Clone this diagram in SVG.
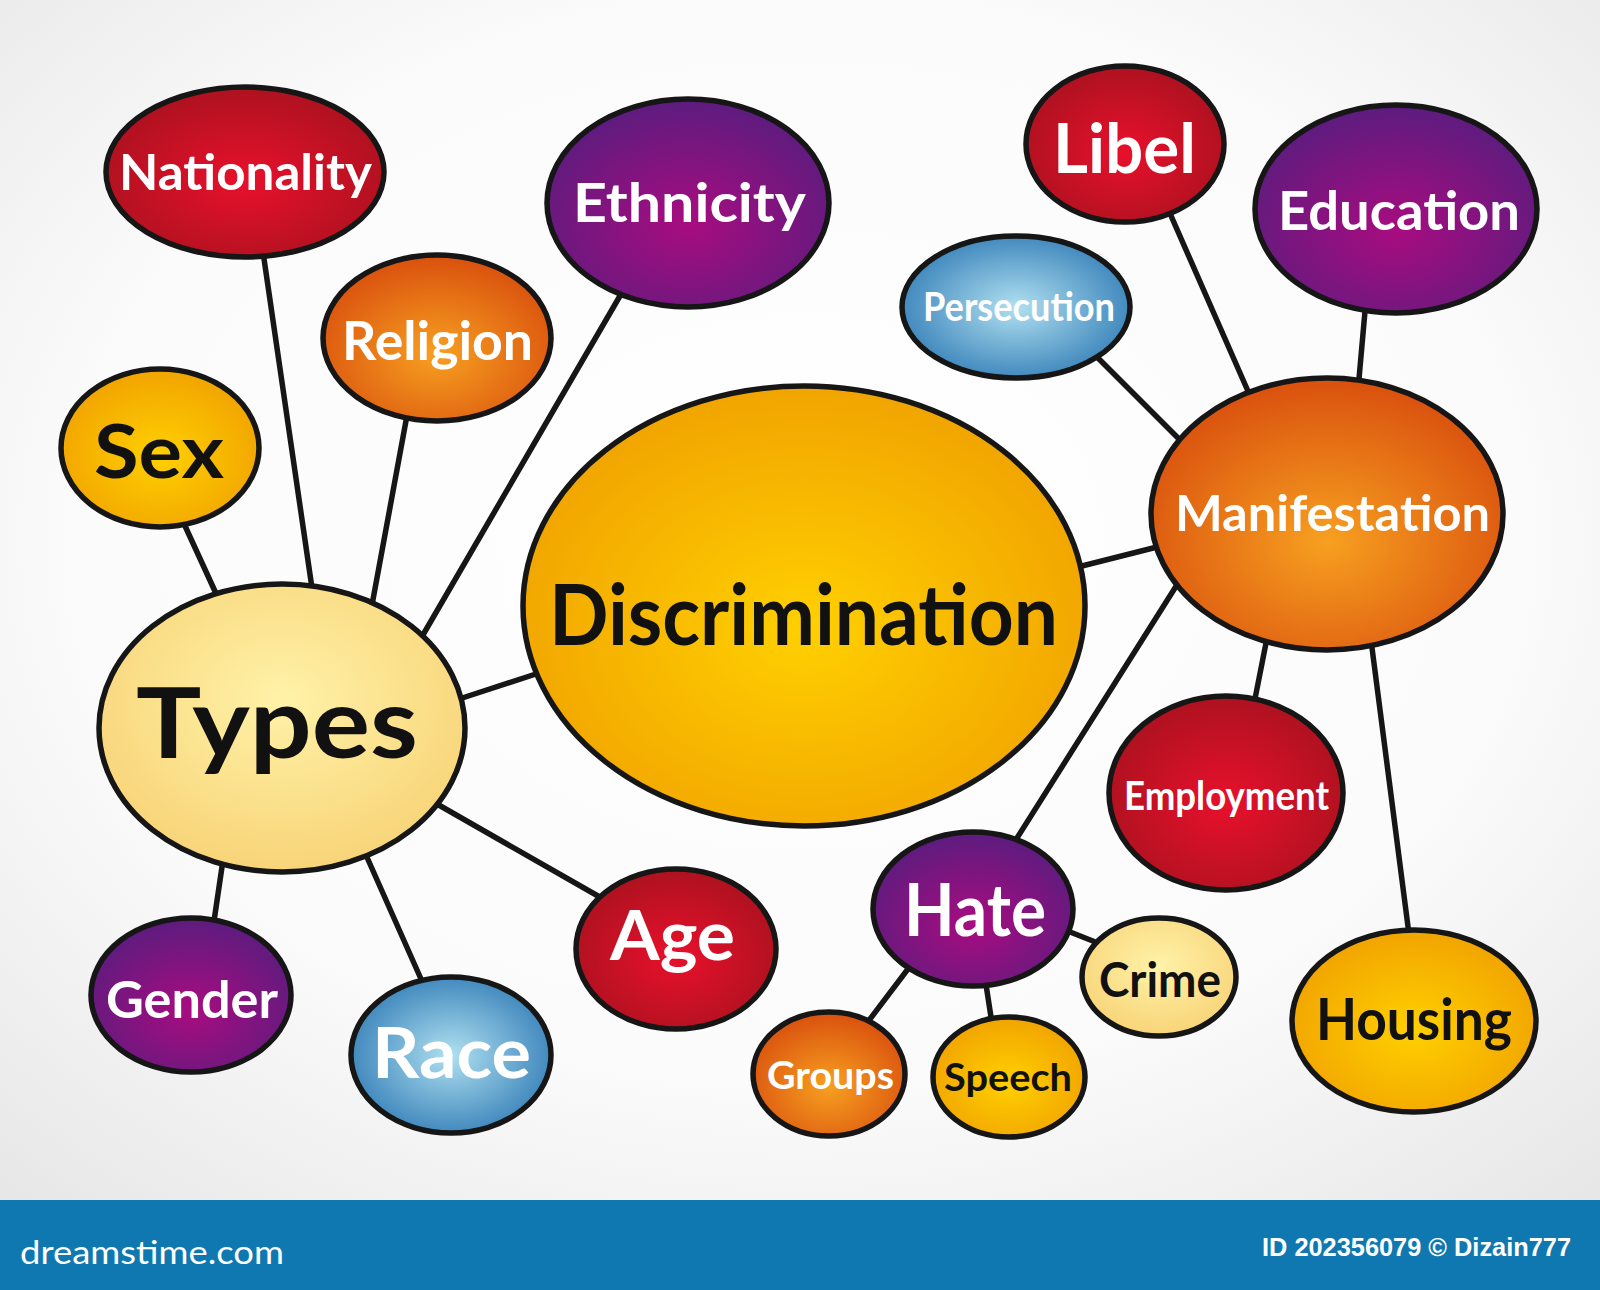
<svg xmlns="http://www.w3.org/2000/svg" width="1600" height="1290" viewBox="0 0 1600 1290">
<defs>
<radialGradient id="bg" cx="0.5" cy="0.45" r="0.75">
<stop offset="0" stop-color="#ffffff"/><stop offset="0.6" stop-color="#fbfbfb"/><stop offset="1" stop-color="#e6e6e6"/>
</radialGradient>
<radialGradient id="gRed" cx="0.5" cy="0.55" r="0.6"><stop offset="0" stop-color="#e8102c"/><stop offset="1" stop-color="#a8121e"/></radialGradient>
<radialGradient id="gPur" cx="0.5" cy="0.6" r="0.6"><stop offset="0" stop-color="#a80c80"/><stop offset="1" stop-color="#5c1c7e"/></radialGradient>
<radialGradient id="gOra" cx="0.5" cy="0.6" r="0.6"><stop offset="0" stop-color="#f7a020"/><stop offset="1" stop-color="#d9500e"/></radialGradient>
<radialGradient id="gYel" cx="0.5" cy="0.55" r="0.6"><stop offset="0" stop-color="#ffd000"/><stop offset="1" stop-color="#f0a000"/></radialGradient>
<radialGradient id="gPale" cx="0.5" cy="0.4" r="0.6"><stop offset="0" stop-color="#fff2a8"/><stop offset="1" stop-color="#f8d478"/></radialGradient>
<radialGradient id="gBlu" cx="0.5" cy="0.5" r="0.6"><stop offset="0" stop-color="#b0e0f0"/><stop offset="1" stop-color="#2c78b4"/></radialGradient>
<style>
.n{stroke:#161616;stroke-width:5.5}
.c line{stroke:#161616;stroke-width:5.5;stroke-linecap:round}
.t{font-family:Lato,"Liberation Sans",sans-serif;font-weight:700}
.w{fill:#ffffff}
.k{fill:#111111}
</style>
</defs>
<rect x="0" y="0" width="1600" height="1200" fill="url(#bg)"/>
<g id="connectors" class="c">
<line x1="450" y1="702" x2="545" y2="671"/>
<line x1="313" y1="595" x2="262" y2="245"/>
<line x1="219" y1="600" x2="180" y2="515"/>
<line x1="372" y1="605" x2="408" y2="410"/>
<line x1="420" y1="640" x2="624" y2="289"/>
<line x1="223" y1="860" x2="213" y2="928"/>
<line x1="362" y1="846" x2="425" y2="988"/>
<line x1="430" y1="800" x2="612" y2="904"/>
<line x1="1070" y1="569" x2="1165" y2="545"/>
<line x1="1185" y1="445" x2="1090" y2="350"/>
<line x1="1251" y1="398" x2="1165" y2="202"/>
<line x1="1358" y1="390" x2="1366" y2="300"/>
<line x1="1267" y1="638" x2="1253" y2="709"/>
<line x1="1371" y1="640" x2="1410" y2="942"/>
<line x1="1180" y1="580" x2="1012" y2="846"/>
<line x1="1060" y1="928" x2="1108" y2="947"/>
<line x1="914" y1="961" x2="864" y2="1027"/>
<line x1="985" y1="978" x2="993" y2="1030"/>
</g>
<g id="nationality"><ellipse class="n" cx="245" cy="172" rx="139" ry="85" fill="url(#gRed)"/><text class="t w" x="119" y="190" font-size="50" textLength="253" lengthAdjust="spacingAndGlyphs">Nationality</text></g>
<g id="ethnicity"><ellipse class="n" cx="688" cy="203" rx="141" ry="104" fill="url(#gPur)"/><text class="t w" x="573" y="222" font-size="54" textLength="233" lengthAdjust="spacingAndGlyphs">Ethnicity</text></g>
<g id="religion"><ellipse class="n" cx="437" cy="338" rx="114" ry="83" fill="url(#gOra)"/><text class="t w" x="342" y="360" font-size="54" textLength="191" lengthAdjust="spacingAndGlyphs">Religion</text></g>
<g id="sex"><ellipse class="n" cx="160" cy="448" rx="99" ry="79" fill="url(#gYel)"/><text class="t k" x="94" y="478" font-size="74" textLength="130" lengthAdjust="spacingAndGlyphs">Sex</text></g>
<g id="types"><ellipse class="n" cx="282" cy="728" rx="183" ry="144" fill="url(#gPale)"/><text class="t k" x="136" y="758" font-size="98" textLength="282" lengthAdjust="spacingAndGlyphs">Types</text></g>
<g id="discrimination"><ellipse class="n" cx="804" cy="606" rx="281" ry="220" fill="url(#gYel)"/><text class="t k" x="549" y="645" font-size="84" textLength="509" lengthAdjust="spacingAndGlyphs">Discrimination</text></g>
<g id="gender"><ellipse class="n" cx="191" cy="995" rx="100" ry="77" fill="url(#gPur)"/><text class="t w" x="106" y="1018" font-size="52" textLength="172" lengthAdjust="spacingAndGlyphs">Gender</text></g>
<g id="race"><ellipse class="n" cx="451" cy="1055" rx="100" ry="78" fill="url(#gBlu)"/><text class="t w" x="372" y="1078" font-size="70" textLength="159" lengthAdjust="spacingAndGlyphs">Race</text></g>
<g id="age"><ellipse class="n" cx="676" cy="949" rx="100" ry="80" fill="url(#gRed)"/><text class="t w" x="610" y="960" font-size="68" textLength="125" lengthAdjust="spacingAndGlyphs">Age</text></g>
<g id="libel"><ellipse class="n" cx="1125" cy="144" rx="99" ry="78" fill="url(#gRed)"/><text class="t w" x="1053" y="173" font-size="68" textLength="143" lengthAdjust="spacingAndGlyphs">Libel</text></g>
<g id="education"><ellipse class="n" cx="1396" cy="209" rx="141" ry="104" fill="url(#gPur)"/><text class="t w" x="1278" y="230" font-size="54" textLength="242" lengthAdjust="spacingAndGlyphs">Education</text></g>
<g id="persecution"><ellipse class="n" cx="1016" cy="307" rx="114" ry="71" fill="url(#gBlu)"/><text class="t w" x="923" y="321" font-size="40" textLength="192" lengthAdjust="spacingAndGlyphs">Persecution</text></g>
<g id="manifestation"><ellipse class="n" cx="1327" cy="514" rx="176" ry="136" fill="url(#gOra)"/><text class="t w" x="1175" y="531" font-size="50" textLength="315" lengthAdjust="spacingAndGlyphs">Manifestation</text></g>
<g id="employment"><ellipse class="n" cx="1226" cy="793" rx="117" ry="97" fill="url(#gRed)"/><text class="t w" x="1124" y="810" font-size="40" textLength="205" lengthAdjust="spacingAndGlyphs">Employment</text></g>
<g id="housing"><ellipse class="n" cx="1414" cy="1021" rx="122" ry="91" fill="url(#gYel)"/><text class="t k" x="1316" y="1040" font-size="58" textLength="196" lengthAdjust="spacingAndGlyphs">Housing</text></g>
<g id="hate"><ellipse class="n" cx="973" cy="909" rx="100" ry="77" fill="url(#gPur)"/><text class="t w" x="904" y="936" font-size="72" textLength="142" lengthAdjust="spacingAndGlyphs">Hate</text></g>
<g id="crime"><ellipse class="n" cx="1159" cy="977" rx="77" ry="59" fill="url(#gPale)"/><text class="t k" x="1099" y="997" font-size="48" textLength="122" lengthAdjust="spacingAndGlyphs">Crime</text></g>
<g id="groups"><ellipse class="n" cx="829" cy="1074" rx="76" ry="62" fill="url(#gOra)"/><text class="t w" x="767" y="1089" font-size="38" textLength="127" lengthAdjust="spacingAndGlyphs">Groups</text></g>
<g id="speech"><ellipse class="n" cx="1009" cy="1077" rx="76" ry="60" fill="url(#gYel)"/><text class="t k" x="944" y="1091" font-size="38" textLength="128" lengthAdjust="spacingAndGlyphs">Speech</text></g>
<g id="footer">
<rect x="0" y="1200" width="1600" height="90" fill="#1078b0"/>
<text x="20" y="1264" font-family="Lato,'Liberation Sans',sans-serif" font-size="32" fill="#ffffff" textLength="264" lengthAdjust="spacingAndGlyphs">dreamstime.com</text>
<text x="1262" y="1256" font-family="'Liberation Sans Narrow','Liberation Sans',sans-serif" font-weight="700" font-size="26" fill="#ffffff" textLength="309" lengthAdjust="spacingAndGlyphs">ID 202356079 © Dizain777</text>
</g>
</svg>
